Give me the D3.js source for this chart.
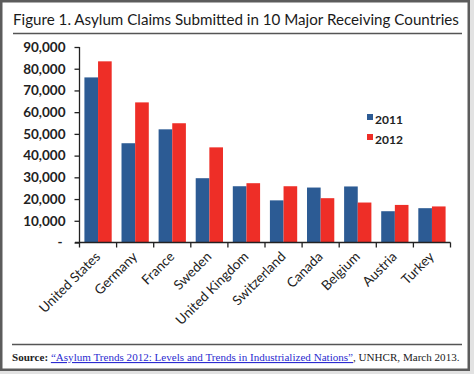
<!DOCTYPE html>
<head>
    <meta charset="utf-8">
    <title>Asylum Claims Submitted in 10 Major Receiving Countries</title>
    <style>
        body { margin: 0; background: #fff; }
        svg { display: block; }
    </style>
</head>
<body>

<svg width="474" height="374"></svg>

<script src="https://d3js.org/d3.v7.min.js"></script>

<script>

// data
var countries = ['United States', 'Germany', 'France', 'Sweden', 'United Kingdom',
    'Switzerland', 'Canada', 'Belgium', 'Austria', 'Turkey'];
var claims2011 = [76000, 45700, 52100, 29600, 25900, 19400, 25300, 25800, 14400, 15800];
var claims2012 = [83400, 64500, 54900, 43800, 27300, 25900, 20400, 18400, 17300, 16600];
var years = ['2011', '2012'];
var yTicks = [0, 10000, 20000, 30000, 40000, 50000, 60000, 70000, 80000, 90000];

var colors = { '2011': '#2c5b94', '2012': '#ee2e27' };
var sans = 'Lato, "Open Sans", sans-serif';

var svg = d3.select('svg');

// shrink a text's font until it fits a width
function fitWidth(sel, width) {
    var node = sel.node();
    var size = parseFloat(sel.style('font-size'));
    var len = node.getComputedTextLength();
    if (len > width) sel.style('font-size', (size * width / len) + 'px');
}

// outer frame
svg.append('rect')
    .attr('width', 474).attr('height', 374)
    .attr('fill', '#e2e2e2');
svg.append('rect')
    .attr('x', 1.25).attr('y', 1.25)
    .attr('width', 467.5).attr('height', 368.5)
    .attr('fill', '#fff')
    .attr('stroke', '#5c5c5c')
    .attr('stroke-width', 2.5);

// title
var title = svg.append('text')
    .attr('x', 13).attr('y', 25)
    .style('font-family', sans)
    .style('font-size', '17px')
    .attr('fill', '#1a1a1a')
    .text('Figure 1. Asylum Claims Submitted in 10 Major Receiving Countries');
fitWidth(title, 446);

svg.append('line')
    .attr('x1', 13).attr('x2', 462)
    .attr('y1', 33.5).attr('y2', 33.5)
    .attr('stroke', '#555').attr('stroke-width', 1.5);

var x0 = d3.scaleBand()
    .domain(countries)
    .range([79.5, 450.5])
    .paddingInner(0)
    .paddingOuter(0);

var x1 = d3.scaleBand()
    .domain(years)
    .range([0, x0.bandwidth()])
    .paddingOuter(0.36);

var y = d3.scaleLinear()
    .domain([0, 90000])
    .range([242.5, 47]);

var g = svg.append('g');

// bars
var rows = countries.map((c, i) => ({ country: c, values: [
    { year: '2011', value: claims2011[i] },
    { year: '2012', value: claims2012[i] }
] }));

var group = g.selectAll('.country')
    .data(rows)
    .enter().append('g')
        .attr('class', 'country')
        .attr('transform', d => `translate(${x0(d.country)},0)`);

group.selectAll('rect')
    .data(d => d.values)
    .enter().append('rect')
        .attr('x', d => x1(d.year))
        .attr('width', x1.bandwidth())
        .attr('y', d => y(d.value))
        .attr('height', d => y(0) - y(d.value))
        .attr('fill', d => colors[d.year]);

// y axis
var yAxis = d3.axisLeft(y)
    .tickValues(yTicks)
    .tickSize(5)
    .tickPadding(9)
    .tickFormat(d => d === 0 ? '-' : d3.format(',')(d));

var yg = svg.append('g')
    .attr('transform', 'translate(79.5,0)')
    .call(yAxis);
yg.select('.domain').attr('d', 'M0,47V242.5');
yg.selectAll('line').attr('stroke', '#222').attr('stroke-width', 1.3);
yg.selectAll('path').attr('stroke', '#222').attr('stroke-width', 1.3);
yg.selectAll('text')
    .style('font-family', sans)
    .style('font-size', '13.5px')
    .style('font-weight', 'bold')
    .attr('fill', '#222');
yg.selectAll('.tick')
    .filter(d => d === 0)
    .select('text')
    .attr('x', -17);

// x axis with ticks at band edges
var xg = svg.append('g');
xg.append('line')
    .attr('x1', 75).attr('x2', 450.5)
    .attr('y1', y(0)).attr('y2', y(0))
    .attr('stroke', '#222').attr('stroke-width', 1.3);
xg.selectAll('.xtick')
    .data(countries.concat(['end']))
    .enter().append('line')
        .attr('class', 'xtick')
        .attr('x1', (d, i) => x0.range()[0] + i * x0.bandwidth())
        .attr('x2', (d, i) => x0.range()[0] + i * x0.bandwidth())
        .attr('y1', y(0)).attr('y2', y(0) + 5)
        .attr('stroke', '#222').attr('stroke-width', 1.3);

xg.selectAll('.xlabel')
    .data(countries)
    .enter().append('text')
        .attr('class', 'xlabel')
        .attr('text-anchor', 'end')
        .style('font-family', sans)
        .style('font-size', '13.5px')
        .attr('fill', '#222')
        .attr('transform', d => `translate(${x0(d) + x0.bandwidth() / 2 + 3},${y(0) + 15}) rotate(-45)`)
        .text(d => d);

// legend
var legend = svg.append('g')
    .selectAll('g')
    .data(years)
    .enter().append('g')
        .attr('transform', (d, i) => `translate(367,${114 + i * 20})`);
legend.append('rect')
    .attr('width', 6).attr('height', 6)
    .attr('fill', d => colors[d]);
legend.append('text')
    .attr('x', 8).attr('y', 9.5)
    .style('font-family', sans)
    .style('font-size', '12px')
    .style('font-weight', 'bold')
    .attr('fill', '#222')
    .text(d => d);

// source
svg.append('line')
    .attr('x1', 12).attr('x2', 462)
    .attr('y1', 344.5).attr('y2', 344.5)
    .attr('stroke', '#555').attr('stroke-width', 1.5);

var src = svg.append('text')
    .attr('x', 12).attr('y', 361)
    .style('font-family', '"Liberation Serif", "DejaVu Serif", serif')
    .style('font-size', '12.5px')
    .attr('fill', '#222');
src.append('tspan').style('font-weight', 'bold').text('Source: ');
src.append('tspan')
    .attr('fill', '#2b2bd0')
    .style('text-decoration', 'underline')
    .text('\u201cAsylum Trends 2012: Levels and Trends in Industrialized Nations\u201d');
src.append('tspan').text(', UNHCR, March 2013.');
fitWidth(src, 448);

</script>

</body>
